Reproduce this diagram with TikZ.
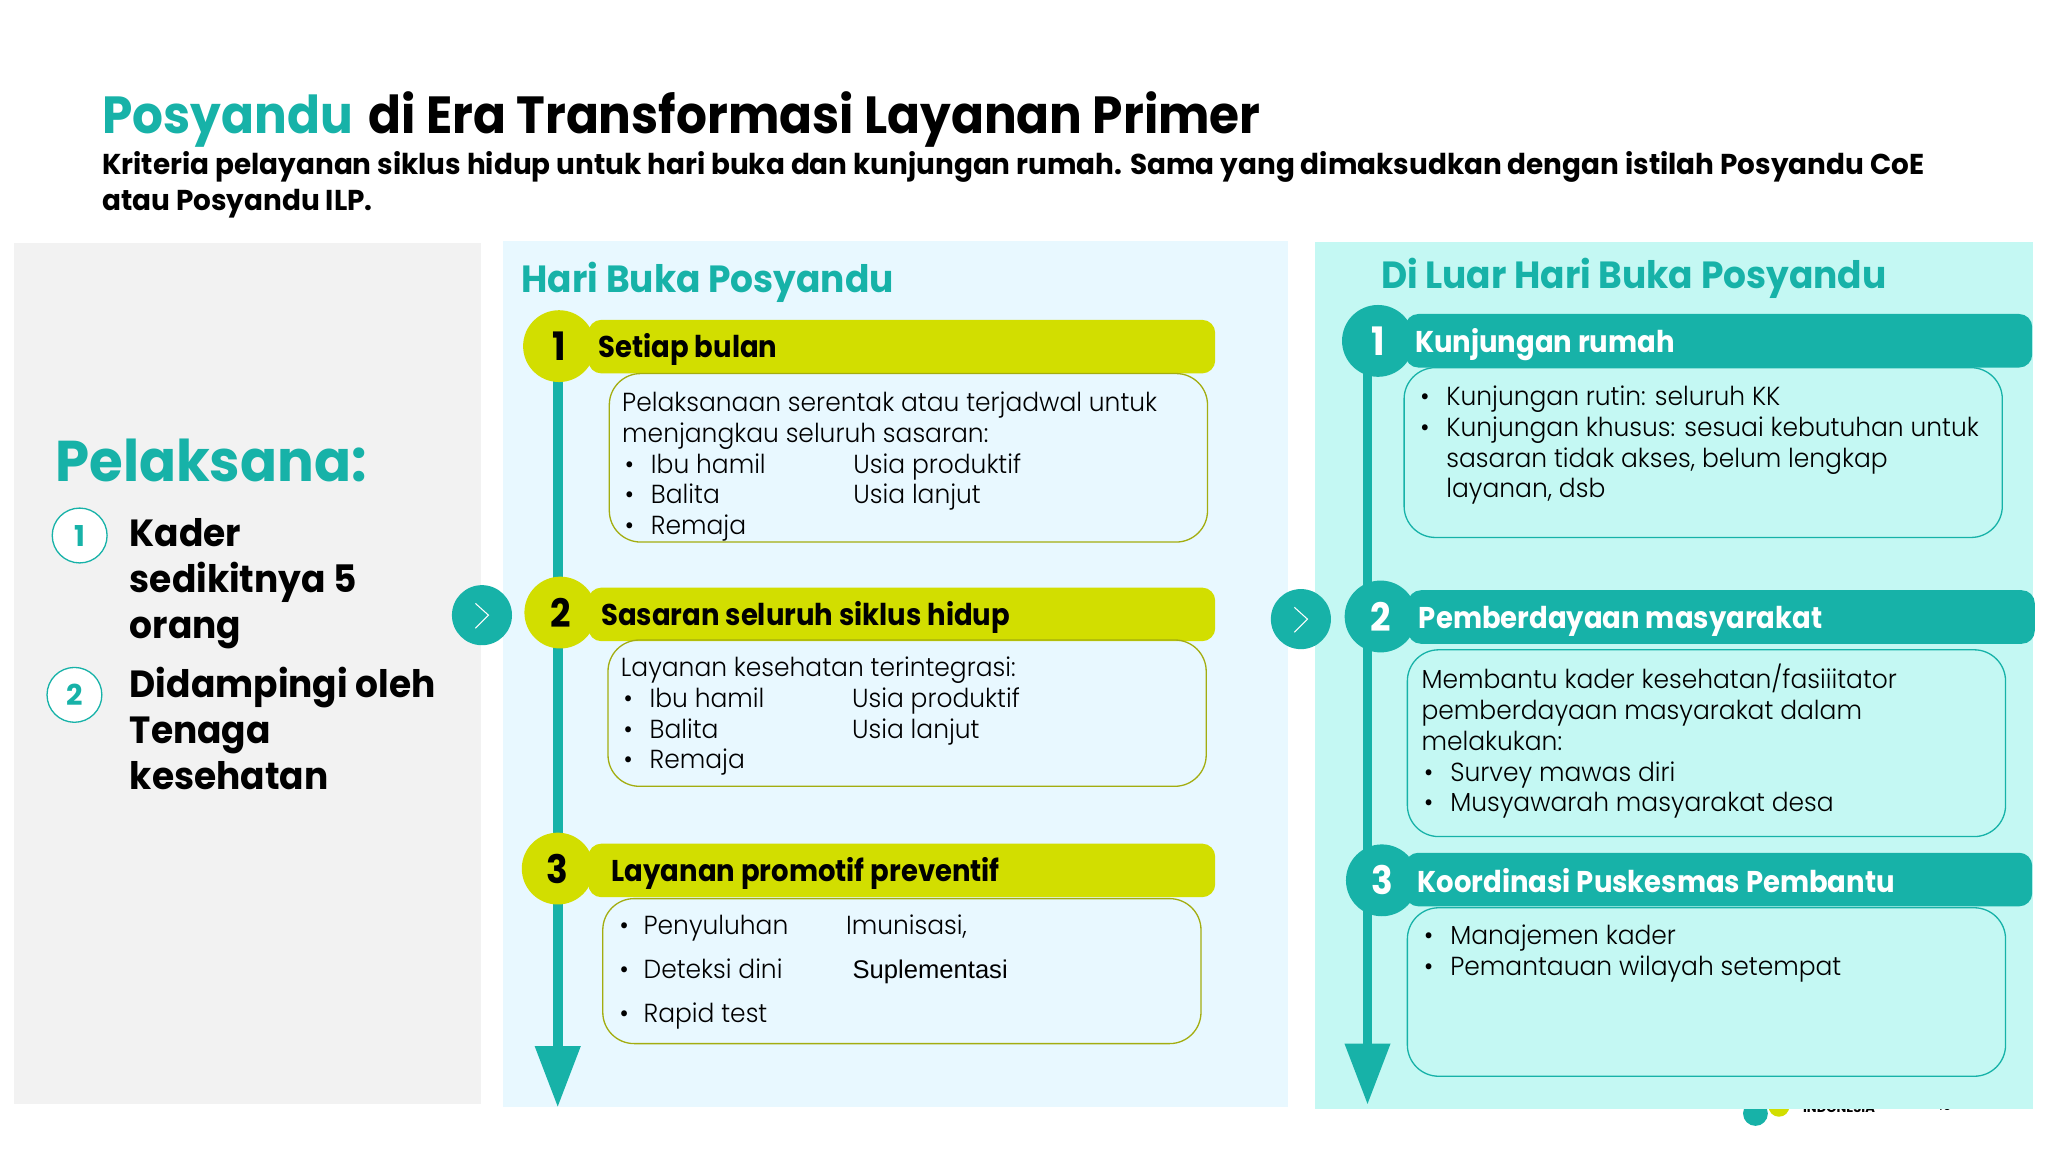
\documentclass[tikz,border=0pt]{standalone}
\usepackage{fontspec}
\setmainfont{Poppins}
\newfontfamily\lightfont{Poppins Light}[FakeStretch=0.955]
\newfontfamily\headfont{Poppins}[FakeStretch=0.915]
\newfontfamily\titlefont{Poppins}[FakeStretch=0.93]
\newfontfamily\subfont{Poppins}[FakeStretch=0.97]
\newfontfamily\sidefont{Poppins}[FakeStretch=0.95]
\newfontfamily\arialfont{Liberation Sans}
\usepackage{tikz}
\usetikzlibrary{arrows.meta}
\definecolor{teal1}{HTML}{17B2A8}
\definecolor{lime1}{HTML}{D2DE00}
\definecolor{limeedge}{HTML}{A3AD10}
\definecolor{greybg}{HTML}{F2F2F2}
\definecolor{bluebg}{HTML}{E8F8FF}
\definecolor{cyanbg}{HTML}{C4F8F3}
\newcommand{\bul}{\makebox[11pt][l]{\hspace{1pt}\textbullet}}
\newcommand{\bulC}{\makebox[9.7pt][l]{\hspace{0.5pt}\textbullet}}
\newcommand{\colA}[1]{\makebox[77.5pt][l]{#1}}
\tikzset{
  panel/.style={draw=none,inner sep=0pt,anchor=north west},
  limebar/.style={fill=lime1,rounded corners=5pt,inner sep=0pt,anchor=north west},
  tealbar/.style={fill=teal1,rounded corners=5pt,inner sep=0pt,anchor=north west},
  limedot/.style={circle,fill=lime1,inner sep=0pt,minimum size=27.5pt,font=\headfont\bfseries\fontsize{15}{15}\selectfont},
  tealdot/.style={circle,fill=teal1,text=white,inner sep=0pt,minimum size=27.5pt,font=\headfont\bfseries\fontsize{15}{15}\selectfont},
  limebox/.style={draw=limeedge,line width=0.5pt,rounded corners=12pt,inner sep=0pt,anchor=north west},
  tealbox/.style={draw=teal1,line width=0.5pt,rounded corners=12pt,inner sep=0pt,anchor=north west},
  head/.style={anchor=west,inner sep=0pt,font=\headfont\bfseries\fontsize{11.5}{11.5}\selectfont},
  body/.style={anchor=north west,inner sep=0pt,align=left,font=\lightfont\fontsize{10}{11.8}\selectfont},
  arrowdot/.style={circle,fill=teal1,inner sep=0pt,minimum size=23pt},
  ringdot/.style={circle,draw=teal1,fill=white,text=teal1,line width=0.5pt,inner sep=0pt,minimum size=21pt,font=\bfseries\fontsize{11}{11}\selectfont},
  chev/.style={draw=white,line width=0.4pt},
  flow/.style={draw=teal1,line width=3.8pt,-{Triangle[length=23.5pt,width=16.5pt]}},
}
\begin{document}
\begin{tikzpicture}[x=0.5pt,y=-0.5pt]
  \useasboundingbox (0,0) rectangle (1568,882);

  % logo under the panel
  \node[circle,fill=teal1,inner sep=0pt,minimum size=9.5pt] (logoA) at (1344,852.5) {};
  \node[circle,fill=lime1,inner sep=0pt,minimum size=8pt] (logoB) at (1362,847) {};
  \node[anchor=base,inner sep=0pt,font=\bfseries\fontsize{5}{5}\selectfont] (logotxt) at (1408,852) {INDONESIA};
  \node[anchor=base,inner sep=0pt,font=\fontsize{5}{5}\selectfont] (pageno) at (1489,850) {16};

  % panels
  \node[panel,fill=greybg,minimum width=178.5pt,minimum height=329.5pt] (pnlA) at (10.5,186) {};
  \node[panel,fill=bluebg,minimum width=300.5pt,minimum height=331.5pt] (pnlB) at (385,184) {};
  \node[panel,fill=cyanbg,minimum width=275pt,minimum height=332pt] (pnlC) at (1006,185) {};

  % title
  \node[anchor=base west,inner sep=0pt,font=\titlefont\bfseries\fontsize{20}{20}\selectfont] (title) at (78,102)
    {\textcolor{teal1}{Posyandu}\hspace{2pt} di Era Transformasi Layanan Primer};
  \node[anchor=north west,inner sep=0pt,align=left,font=\subfont\bfseries\fontsize{11}{14}\selectfont] (subtitle) at (78,115.5)
    {Kriteria pelayanan siklus hidup untuk hari buka dan kunjungan rumah. Sama yang dimaksudkan dengan istilah Posyandu CoE\\
     atau Posyandu ILP.};

  % left panel
  \node[anchor=base west,inner sep=0pt,text=teal1,font=\sidefont\bfseries\fontsize{22}{22}\selectfont] (pelaksana) at (42,369) {Pelaksana:};
  \node[ringdot] (pa) at (61,410) {1};
  \node[ringdot] (pb) at (57,532) {2};
  \node[anchor=north west,inner sep=0pt,align=left,font=\sidefont\bfseries\fontsize{14.5}{17.6}\selectfont] (patxt) at (99,396.5) {Kader\\sedikitnya 5\\orang};
  \node[anchor=north west,inner sep=0pt,align=left,font=\sidefont\bfseries\fontsize{14.5}{17.6}\selectfont] (pbtxt) at (99,510.5) {Didampingi oleh\\Tenaga\\kesehatan};

  \node[arrowdot] (goB) at (369,471) {};
  \draw[chev] (364,462) -- (374,471) -- (364,481);
  \node[arrowdot] (goC) at (996,474) {};
  \draw[chev] (991,465) -- (1001,474) -- (991,484);

  % hari buka
  \node[anchor=base west,inner sep=0pt,text=teal1,font=\sidefont\bfseries\fontsize{14.5}{14.5}\selectfont] (hbhead) at (399,224) {Hari Buka Posyandu};
  \coordinate (hbend) at (427,848);
  \draw[flow] (427,265) -- (hbend);

  \node[limebar,minimum width=240pt,minimum height=20.5pt] (hbbarA) at (450,244.5) {};
  \node[limebar,minimum width=240pt,minimum height=20.5pt] (hbbarB) at (450,449.5) {};
  \node[limebar,minimum width=240pt,minimum height=20.5pt] (hbbarC) at (450,645.5) {};
  \node[limedot] (hbA) at (428,265) {1};
  \node[limedot] (hbB) at (429,469) {2};
  \node[limedot] (hbC) at (427,665) {3};
  \node[head] (hbheadA) at (458,267.5) {Setiap bulan};
  \node[head] (hbheadB) at (460,472.5) {Sasaran seluruh siklus hidup};
  \node[head] (hbheadC) at (468,668.5) {Layanan promotif preventif};

  \node[limebox,minimum width=229pt,minimum height=64.5pt] (hbboxA) at (466,285.5) {};
  \node[limebox,minimum width=229pt,minimum height=56pt] (hbboxB) at (465,489.5) {};
  \node[limebox,minimum width=229pt,minimum height=55.5pt] (hbboxC) at (461,687.5) {};

  \node[body] (hbtxtA) at (476,299.5) {Pelaksanaan serentak atau terjadwal untuk\\menjangkau seluruh sasaran:\\
    \bul\colA{Ibu hamil}Usia produktif\\\bul\colA{Balita}Usia lanjut\\\bul Remaja};
  \node[body] (hbtxtB) at (475,502.5) {Layanan kesehatan terintegrasi:\\
    \bul\colA{Ibu hamil}Usia produktif\\\bul\colA{Balita}Usia lanjut\\\bul Remaja};
  \node[body,font=\lightfont\fontsize{10}{16.8}\selectfont] (hbtxtC) at (473,700) {\bulC\colA{Penyuluhan}Imunisasi,\\
    \bulC\colA{Deteksi dini}{\arialfont\fontsize{9.8}{16.8}\selectfont\kern2.5pt Suplementasi}\\\bulC Rapid test};

  % di luar hari buka
  \node[anchor=base west,inner sep=0pt,text=teal1,font=\sidefont\bfseries\fontsize{14.5}{14.5}\selectfont] (dlhead) at (1057,221) {Di Luar Hari Buka Posyandu};
  \coordinate (dlend) at (1047,846);
  \draw[flow] (1047,262) -- (dlend);

  \node[tealbar,minimum width=240pt,minimum height=20.5pt] (dlbarA) at (1075.5,240) {};
  \node[tealbar,minimum width=240pt,minimum height=20.5pt] (dlbarB) at (1077.5,451.5) {};
  \node[tealbar,minimum width=240pt,minimum height=20.5pt] (dlbarC) at (1075.5,652.5) {};
  \node[tealdot] (dlA) at (1055,261) {1};
  \node[tealdot] (dlB) at (1057,472) {2};
  \node[tealdot] (dlC) at (1058,674) {3};
  \node[head,text=white] (dlheadA) at (1083,263.5) {Kunjungan rumah};
  \node[head,text=white] (dlheadB) at (1086,475.5) {Pemberdayaan masyarakat};
  \node[head,text=white] (dlheadC) at (1085,674.5) {Koordinasi Puskesmas Pembantu};

  \node[tealbox,minimum width=229pt,minimum height=65pt] (dlboxA) at (1074.5,281) {};
  \node[tealbox,minimum width=229pt,minimum height=71.5pt] (dlboxB) at (1077,497) {};
  \node[tealbox,minimum width=229pt,minimum height=64.5pt] (dlboxC) at (1077,694.5) {};

  \node[body] (dltxtA) at (1085,295) {\bul Kunjungan rutin: seluruh KK\\\bul Kunjungan khusus: sesuai kebutuhan untuk\\
    \hspace*{11pt}sasaran tidak akses, belum lengkap\\\hspace*{11pt}layanan, dsb};
  \node[body] (dltxtB) at (1088,508) {Membantu kader kesehatan/fasiiitator\\pemberdayaan masyarakat dalam\\melakukan:\\
    \bul Survey mawas diri\\\bul Musyawarah masyarakat desa};
  \node[body] (dltxtC) at (1088,708) {\bul Manajemen kader\\\bul Pemantauan wilayah setempat};
\end{tikzpicture}
\end{document}
